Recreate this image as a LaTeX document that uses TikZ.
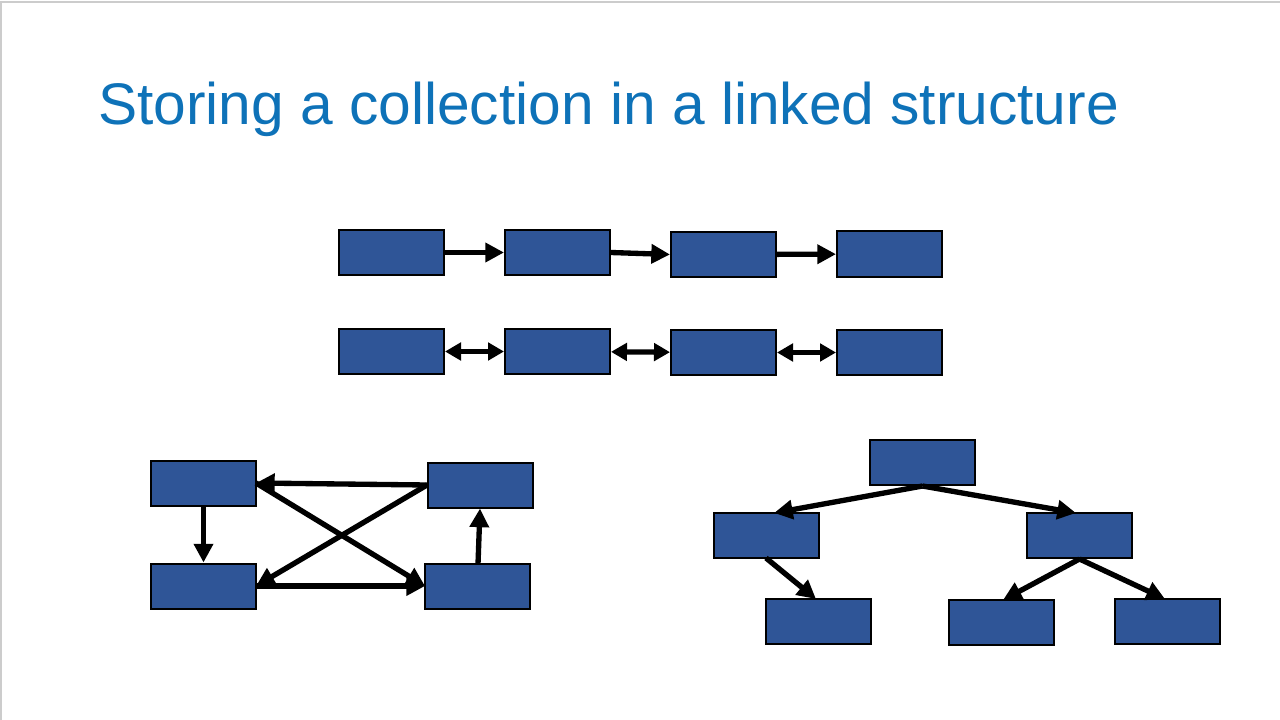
\documentclass[tikz,border=0pt]{standalone}
\usepackage{fontspec}
\setmainfont{Liberation Sans}
\usetikzlibrary{arrows.meta}
\definecolor{boxblue}{HTML}{2F5597}
\definecolor{titleblue}{HTML}{0E72B8}
\begin{document}
\begin{tikzpicture}[x=0.75pt,y=-0.75pt,
  box/.style={draw=black,line width=1.5pt,fill=boxblue,minimum width=78.75pt,minimum height=33.75pt,inner sep=0pt},
  ar/.style={line width=4pt,-{Triangle[length=14pt,width=14pt]}},
  dar/.style={line width=4pt,{Triangle[length=12pt,width=13pt]}-{Triangle[length=12pt,width=13pt]}}]
\useasboundingbox (0,0) rectangle (1280,720);
\fill[white] (0,0) rectangle (1280,720);
\draw[gray!40,line width=1.5pt] (1,720) -- (1,2) -- (1280,2);
\node[anchor=base west,text=titleblue,font=\fontsize{44}{50}\selectfont,inner sep=0pt] (title) at (98,125) {Storing a collection in a linked structure};
% row 1
\node[box] (a1) at (391.5,252.5) {};
\node[box] (a2) at (557.5,252.5) {};
\node[box] (a3) at (723.5,254.5) {};
\node[box] (a4) at (889.5,254) {};
\draw[ar] (a1) -- (a2);
\draw[ar] (a2.east) -- (a3.west);
\draw[ar] (a3) -- (a4);
% row 2
\node[box] (b1) at (391.5,351.5) {};
\node[box] (b2) at (557.5,351.5) {};
\node[box] (b3) at (723.5,352.5) {};
\node[box] (b4) at (889.5,352.5) {};
\draw[dar] (b1) -- (b2);
\draw[dar] (b2) -- (b3);
\draw[dar] (b3) -- (b4);
% graph
\node[box] (ga) at (203.5,483.5) {};
\node[box] (gb) at (480,485) {};
\node[box] (gc) at (203.5,586) {};
\node[box] (gd) at (477.5,586) {};
\coordinate (gb1) at (427,485);
\coordinate (ga1) at (256,483);
\coordinate (gc1) at (256,586);
\coordinate (gd1) at (425,586);
\draw[ar] (gb1) -- (ga1);
\draw[ar] (ga) -- (gc);
\draw[ar] (gb1) -- (gc1);
\draw[ar] (ga1) -- (gd1);
\draw[ar] (gc1) -- (gd1);
\draw[ar] (478,564) -- (gb.south-|480,0);
% tree
\node[box] (r) at (922.5,462.5) {};
\node[box] (l) at (766.5,535.5) {};
\node[box] (rr) at (1079.5,535.5) {};
\node[box] (ll) at (818.5,621) {};
\node[box] (rl) at (1001.5,622) {};
\node[box] (rrr) at (1167.5,621) {};
\draw[ar] (r.south) -- (774,513);
\draw[ar] (r.south) -- (1076,513);
\draw[ar] (766,558) -- (816,599);
\draw[ar] (rr.south) -- (1003,600);
\draw[ar] (rr.south) -- (1165,599);
\end{tikzpicture}
\end{document}
